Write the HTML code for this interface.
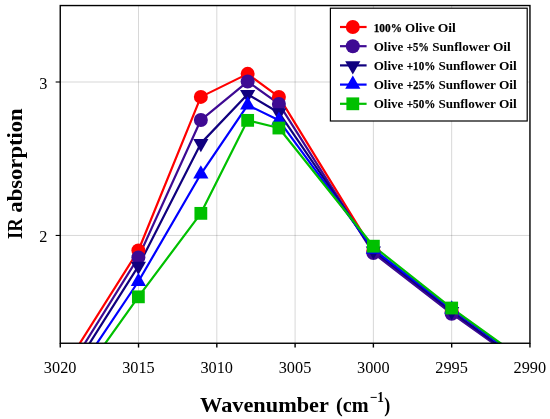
<!DOCTYPE html>
<html><head><meta charset="utf-8"><title>IR absorption</title>
<style>
html,body{margin:0;padding:0;background:#fff;}
svg{display:block;}
text{font-family:"Liberation Serif","DejaVu Serif",serif;fill:#000;}
.tick{font-size:16.3px;}
.ax{font-size:21px;font-weight:bold;}
.lg{font-size:12.5px;font-weight:bold;}
</style></head><body>
<svg width="550" height="419" viewBox="0 0 550 419">
<rect x="0" y="0" width="550" height="419" fill="#fff"/>
<defs><clipPath id="cp"><rect x="60.25" y="5.55" width="469.70" height="337.70"/></clipPath></defs>
<g stroke="#000" stroke-opacity="0.17" stroke-width="0.95" fill="none"><line x1="138.53" y1="5.55" x2="138.53" y2="343.25"/><line x1="216.82" y1="5.55" x2="216.82" y2="343.25"/><line x1="295.10" y1="5.55" x2="295.10" y2="343.25"/><line x1="373.38" y1="5.55" x2="373.38" y2="343.25"/><line x1="451.67" y1="5.55" x2="451.67" y2="343.25"/><line x1="60.25" y1="235.45" x2="529.95" y2="235.45"/><line x1="60.25" y1="82.00" x2="529.95" y2="82.00"/></g>
<g clip-path="url(#cp)">
<polyline points="60.25,374.32 138.38,250.49 200.85,96.88 247.66,73.87 278.90,96.88 373.38,250.80 451.67,311.41 529.95,368.95" fill="none" stroke="#ff0000" stroke-width="2.2" stroke-linejoin="round"/>
<polyline points="60.25,382.76 138.38,257.39 200.85,120.06 247.66,81.54 278.90,103.94 373.38,253.10 451.67,313.71 529.95,369.26" fill="none" stroke="#3e0a93" stroke-width="2.2" stroke-linejoin="round"/>
<polyline points="60.25,389.67 138.38,266.14 200.85,143.38 247.66,94.28 278.90,112.69 373.38,250.80 451.67,311.41 529.95,368.18" fill="none" stroke="#10007f" stroke-width="2.2" stroke-linejoin="round"/>
<polyline points="60.25,398.11 138.38,281.49 200.85,174.07 247.66,105.02 278.90,120.36 373.38,249.26 451.67,309.11 529.95,365.88" fill="none" stroke="#0000ff" stroke-width="2.2" stroke-linejoin="round"/>
<polyline points="60.25,406.55 138.38,296.83 200.85,213.35 247.66,120.36 278.90,128.03 373.38,246.19 451.67,308.03 529.95,364.35" fill="none" stroke="#00c000" stroke-width="2.2" stroke-linejoin="round"/>
<circle cx="138.38" cy="250.49" r="7.0" fill="#ff0000"/><circle cx="200.85" cy="96.88" r="7.0" fill="#ff0000"/><circle cx="247.66" cy="73.87" r="7.0" fill="#ff0000"/><circle cx="278.90" cy="96.88" r="7.0" fill="#ff0000"/><circle cx="373.38" cy="250.80" r="7.0" fill="#ff0000"/><circle cx="451.67" cy="311.41" r="7.0" fill="#ff0000"/>
<circle cx="138.38" cy="257.39" r="7.0" fill="#3e0a93"/><circle cx="200.85" cy="120.06" r="7.0" fill="#3e0a93"/><circle cx="247.66" cy="81.54" r="7.0" fill="#3e0a93"/><circle cx="278.90" cy="103.94" r="7.0" fill="#3e0a93"/><circle cx="373.38" cy="253.10" r="7.0" fill="#3e0a93"/><circle cx="451.67" cy="313.71" r="7.0" fill="#3e0a93"/>
<polygon points="130.78,261.74 145.98,261.74 138.38,274.94" fill="#10007f"/><polygon points="193.25,138.98 208.45,138.98 200.85,152.18" fill="#10007f"/><polygon points="240.06,89.88 255.26,89.88 247.66,103.08" fill="#10007f"/><polygon points="271.30,108.29 286.50,108.29 278.90,121.49" fill="#10007f"/><polygon points="365.78,246.40 380.98,246.40 373.38,259.60" fill="#10007f"/><polygon points="444.07,307.01 459.27,307.01 451.67,320.21" fill="#10007f"/>
<polygon points="130.78,285.88 145.98,285.88 138.38,272.69" fill="#0000ff"/><polygon points="193.25,178.47 208.45,178.47 200.85,165.27" fill="#0000ff"/><polygon points="240.06,109.42 255.26,109.42 247.66,96.22" fill="#0000ff"/><polygon points="271.30,124.76 286.50,124.76 278.90,111.56" fill="#0000ff"/><polygon points="365.78,253.66 380.98,253.66 373.38,240.46" fill="#0000ff"/><polygon points="444.07,313.51 459.27,313.51 451.67,300.31" fill="#0000ff"/>
<rect x="131.98" y="290.43" width="12.8" height="12.8" fill="#00c000"/><rect x="194.45" y="206.95" width="12.8" height="12.8" fill="#00c000"/><rect x="241.26" y="113.96" width="12.8" height="12.8" fill="#00c000"/><rect x="272.50" y="121.63" width="12.8" height="12.8" fill="#00c000"/><rect x="366.98" y="239.79" width="12.8" height="12.8" fill="#00c000"/><rect x="445.27" y="301.63" width="12.8" height="12.8" fill="#00c000"/>
</g>
<rect x="60.25" y="5.55" width="469.70" height="337.70" fill="none" stroke="#000" stroke-width="1.4"/>
<g stroke="#000" stroke-width="1.4"><line x1="60.25" y1="343.25" x2="60.25" y2="347.55"/><line x1="138.53" y1="343.25" x2="138.53" y2="347.55"/><line x1="216.82" y1="343.25" x2="216.82" y2="347.55"/><line x1="295.10" y1="343.25" x2="295.10" y2="347.55"/><line x1="373.38" y1="343.25" x2="373.38" y2="347.55"/><line x1="451.67" y1="343.25" x2="451.67" y2="347.55"/><line x1="529.95" y1="343.25" x2="529.95" y2="347.55"/><line x1="55.65" y1="235.45" x2="60.25" y2="235.45" stroke-width="1.1"/><line x1="55.65" y1="82.00" x2="60.25" y2="82.00" stroke-width="1.1"/></g>
<text class="tick" x="60.15" y="373.0" text-anchor="middle">3020</text><text class="tick" x="138.43" y="373.0" text-anchor="middle">3015</text><text class="tick" x="216.72" y="373.0" text-anchor="middle">3010</text><text class="tick" x="295.00" y="373.0" text-anchor="middle">3005</text><text class="tick" x="373.28" y="373.0" text-anchor="middle">3000</text><text class="tick" x="451.57" y="373.0" text-anchor="middle">2995</text><text class="tick" x="529.85" y="373.0" text-anchor="middle">2990</text>
<text class="tick" x="47.4" y="242.15" text-anchor="end">2</text><text class="tick" x="47.4" y="88.70" text-anchor="end">3</text>
<text class="ax" x="200.10" y="412" textLength="128.80" lengthAdjust="spacingAndGlyphs">Wavenumber</text><text class="ax" x="336.10" y="412" textLength="32.60" lengthAdjust="spacingAndGlyphs">(cm</text><text class="ax" x="369.70" y="402.2" textLength="14.20" lengthAdjust="spacingAndGlyphs" style="font-size:14.5px">−1</text><text class="ax" x="384.30" y="412" textLength="6.00" lengthAdjust="spacingAndGlyphs">)</text>
<g transform="translate(21.6 0) rotate(-90)"><text class="ax" x="-239.10" y="0" textLength="20.70" lengthAdjust="spacingAndGlyphs">IR</text><text class="ax" x="-212.70" y="0" textLength="104.40" lengthAdjust="spacingAndGlyphs">absorption</text></g>
<rect x="330.4" y="8.2" width="196.8" height="112.8" fill="#fff" stroke="#000" stroke-width="1.2"/>
<line x1="340" y1="27.00" x2="366.6" y2="27.00" stroke="#ff0000" stroke-width="2.2"/><circle cx="352.80" cy="27.00" r="7.0" fill="#ff0000"/><text class="lg" x="373.70" y="31.85" textLength="28.30" lengthAdjust="spacingAndGlyphs" stroke="#000" stroke-width="0.25">100%</text><text class="lg" x="405.00" y="31.85" textLength="29.70" lengthAdjust="spacingAndGlyphs">Olive</text><text class="lg" x="437.70" y="31.85" textLength="18.20" lengthAdjust="spacingAndGlyphs">Oil</text>
<line x1="340" y1="46.20" x2="366.6" y2="46.20" stroke="#3e0a93" stroke-width="2.2"/><circle cx="352.80" cy="46.20" r="7.0" fill="#3e0a93"/><text class="lg" x="373.70" y="50.90" textLength="29.70" lengthAdjust="spacingAndGlyphs">Olive</text><text class="lg" x="406.80" y="50.90" textLength="22.10" lengthAdjust="spacingAndGlyphs" stroke="#000" stroke-width="0.25">+5%</text><text class="lg" x="432.30" y="50.90" textLength="57.50" lengthAdjust="spacingAndGlyphs">Sunflower</text><text class="lg" x="492.90" y="50.90" textLength="17.90" lengthAdjust="spacingAndGlyphs">Oil</text>
<line x1="340" y1="65.40" x2="366.6" y2="65.40" stroke="#10007f" stroke-width="2.2"/><polygon points="345.20,61.20 360.40,61.20 352.80,74.40" fill="#10007f"/><text class="lg" x="373.70" y="69.95" textLength="29.70" lengthAdjust="spacingAndGlyphs">Olive</text><text class="lg" x="406.80" y="69.95" textLength="28.50" lengthAdjust="spacingAndGlyphs" stroke="#000" stroke-width="0.25">+10%</text><text class="lg" x="438.40" y="69.95" textLength="57.40" lengthAdjust="spacingAndGlyphs">Sunflower</text><text class="lg" x="498.90" y="69.95" textLength="17.90" lengthAdjust="spacingAndGlyphs">Oil</text>
<line x1="340" y1="84.60" x2="366.6" y2="84.60" stroke="#0000ff" stroke-width="2.2"/><polygon points="345.20,88.70 360.40,88.70 352.80,75.50" fill="#0000ff"/><text class="lg" x="373.70" y="89.00" textLength="29.70" lengthAdjust="spacingAndGlyphs">Olive</text><text class="lg" x="406.80" y="89.00" textLength="28.50" lengthAdjust="spacingAndGlyphs" stroke="#000" stroke-width="0.25">+25%</text><text class="lg" x="438.40" y="89.00" textLength="57.40" lengthAdjust="spacingAndGlyphs">Sunflower</text><text class="lg" x="498.90" y="89.00" textLength="17.90" lengthAdjust="spacingAndGlyphs">Oil</text>
<line x1="340" y1="103.80" x2="366.6" y2="103.80" stroke="#00c000" stroke-width="2.2"/><rect x="346.40" y="97.40" width="12.8" height="12.8" fill="#00c000"/><text class="lg" x="373.70" y="108.05" textLength="29.70" lengthAdjust="spacingAndGlyphs">Olive</text><text class="lg" x="406.80" y="108.05" textLength="28.50" lengthAdjust="spacingAndGlyphs" stroke="#000" stroke-width="0.25">+50%</text><text class="lg" x="438.40" y="108.05" textLength="57.40" lengthAdjust="spacingAndGlyphs">Sunflower</text><text class="lg" x="498.90" y="108.05" textLength="17.90" lengthAdjust="spacingAndGlyphs">Oil</text>
</svg>
</body></html>
